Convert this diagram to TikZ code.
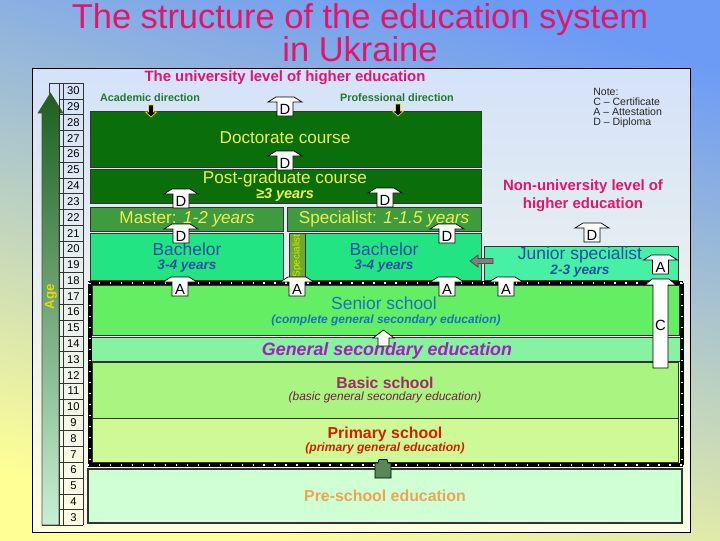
\documentclass[tikz,border=0pt]{standalone}
\usepackage{fontspec}
\setmainfont{Liberation Sans}

\definecolor{bgblue}{RGB}{108,155,245}
\definecolor{bgyellow}{RGB}{255,255,150}
\definecolor{paneltop}{RGB}{212,226,250}
\definecolor{panelbot}{RGB}{255,255,225}
\definecolor{titlepink}{RGB}{228,20,110}
\definecolor{docgreen}{RGB}{10,110,10}
\definecolor{midgreen}{RGB}{62,155,62}
\definecolor{bachgreen}{RGB}{35,228,130}
\definecolor{stripgreen}{RGB}{105,170,50}
\definecolor{jungreen}{RGB}{70,240,165}
\definecolor{seniorgreen}{RGB}{100,238,100}
\definecolor{gengreen}{RGB}{135,242,160}
\definecolor{basicgreen}{RGB}{170,245,130}
\definecolor{primgreen}{RGB}{205,250,150}
\definecolor{pregreen}{RGB}{208,255,212}
\definecolor{yeltext}{RGB}{240,240,80}
\definecolor{bluetext}{RGB}{30,80,170}
\definecolor{purpletext}{RGB}{165,30,190}
\definecolor{basictext}{RGB}{165,40,105}
\definecolor{primtext}{RGB}{215,30,0}
\definecolor{pretext}{RGB}{235,165,85}
\definecolor{dirgreen}{RGB}{30,120,45}
\definecolor{agetop}{RGB}{30,95,30}
\definecolor{agebot}{RGB}{200,240,212}

\tikzset{
  blk/.style={draw=black!80, line width=0.5pt},
  rail/.style={draw=black, line width=2.6pt,
    postaction={draw=white, line width=0.9pt, dash pattern=on 1pt off 6.8pt}},
  certbox/.style={draw=black, fill=white, line width=0.5pt},
  certtxt/.style={font=\fontsize{10.5}{12}\selectfont, inner sep=0pt},
  pics/cert/.style={code={
    \draw[certbox] (-8,7) -- (-8,-7) -- (-17,-7) -- (-9,-12) -- (9,-12) -- (17,-7) -- (8,-7) -- (8,7) -- cycle;
    \node[certtxt] (-l) at (0,0.5) {#1};
  }},
  pics/dirmark/.style={code={
    \draw[fill=black, draw=yellow!90!black, line width=0.5pt] (-2.5,-6) -- (2.5,-6) -- (2.5,1) -- (5.5,1) -- (0,6) -- (-5.5,1) -- (-2.5,1) -- cycle;
  }},
  pinktxt/.style={text=titlepink, font=\bfseries\fontsize{10.6}{12.8}\selectfont, inner sep=0pt},
  yeltxt/.style={text=yeltext, font=\fontsize{12.2}{14}\selectfont, inner sep=0pt},
  bluetxt/.style={text=bluetext, font=\fontsize{12.4}{14}\selectfont, inner sep=0pt},
  yrs/.style={font=\bfseries\itshape\fontsize{9.7}{11}\selectfont, inner sep=0pt},
  subtxt/.style={inner sep=0pt},
  agenum/.style={font=\fontsize{8}{9}\selectfont, inner sep=0pt},
}

\begin{document}
\begin{tikzpicture}[x=0.025cm, y=-0.025cm]
  \useasboundingbox (0,0) rectangle (720,540);

  % Background and panel
  \shade[top color=bgblue, bottom color=bgyellow, shading angle=-15] (0,0) rectangle (720,540);
  \shade[top color=paneltop, bottom color=panelbot, draw=black, line width=0.6pt] (32,68) rectangle (690,532);

  \node[text=titlepink, font=\fontsize{24.5}{23.5}\selectfont, align=center, inner sep=0pt] (title) at (360,33) {The structure of the education system\\in Ukraine};

  % Age scale
  \draw[black!80, line width=0.4pt] (49,83) rectangle (63,525);
  \shade[top color=agetop, bottom color=agebot, draw=black!70, line width=0.4pt] (42,525) -- (42,113) -- (38,113) -- (50.5,93) -- (63,113) -- (59,113) -- (59,525) -- cycle;
  \node[text=yellow!80!olive, font=\bfseries\fontsize{9.5}{11}\selectfont, rotate=90, inner sep=0pt] (age) at (51,297) {Age};
  \foreach \a in {3,...,30} {
    \node[agenum] (n\a) at (73.5, {83+(30-\a)*15.8+7.9}) {\a};
    \draw[black!80, line width=0.4pt] (59, {83+(30-\a)*15.8}) -- (83, {83+(30-\a)*15.8});
  }
  \draw[black!80, line width=0.4pt] (59,83) -- (59,525) (63,83) -- (63,525) (83,83) -- (83,525) (42,525) -- (83,525);

  % University level
  \node[pinktxt] (univ) at (285,78) {The university level of higher education};
  \node[text=dirgreen, font=\bfseries\fontsize{7.7}{9}\selectfont, inner sep=0pt] (acad) at (150,98) {Academic direction};
  \node[text=dirgreen, font=\bfseries\fontsize{7.7}{9}\selectfont, inner sep=0pt] (prof) at (397,98) {Professional direction};

  \draw[blk, fill=docgreen] (90,111) rectangle (481,167);
  \draw[blk, fill=docgreen] (90,169) rectangle (481,203);
  \draw[blk, fill=midgreen] (90,207) rectangle (283,231);
  \draw[blk, fill=midgreen] (287,207) rectangle (481,231);
  \draw[blk, fill=bachgreen] (90,233) rectangle (283,280);
  \draw[blk, fill=stripgreen] (289,233) rectangle (305,280);
  \draw[blk, fill=bachgreen] (305,233) rectangle (481,280);
  \draw[blk, fill=jungreen] (484,246) rectangle (678,280);

  \node[yeltxt] (doct) at (285,138) {Doctorate course};
  \node[yeltxt] (postgr) at (285,179) {Post-graduate course};
  \node[yeltxt, font=\bfseries\itshape\fontsize{10.3}{12}\selectfont] (postyrs) at (285,195) {≥3 years};
  \node[yeltxt] (master) at (187,219) {Master: \textit{1-2 years}};
  \node[yeltxt] (spec) at (384,219) {Specialist: \textit{1-1.5 years}};
  \node[bluetxt] (bachl) at (187,249) {Bachelor};
  \node[yrs, text=bluetext] (bachlyrs) at (187,266) {3-4 years};
  \node[text=yellow!85!olive, font=\fontsize{7}{8}\selectfont, rotate=90, inner sep=0pt] (strip) at (297,256) {Specialist};
  \node[bluetxt] (bachr) at (384,249) {Bachelor};
  \node[yrs, text=bluetext] (bachryrs) at (384,266) {3-4 years};
  \node[bluetxt] (junior) at (580,255) {Junior specialist};
  \node[yrs, text=bluetext] (junioryrs) at (580,271) {2-3 years};

  % Non-university level and note
  \node[pinktxt, align=center] (nonuni) at (583,196) {Non-university level of\\higher education};
  \node[font=\fontsize{7.5}{7.1}\selectfont, align=left, anchor=north west, inner sep=0pt, text=black!85] (note) at (593,88) {Note:\\C – Certificate\\A – Attestation\\D – Diploma};

  % School levels
  \draw[blk, fill=seniorgreen] (92,285) rectangle (679,335);
  \draw[blk, fill=gengreen] (90,337) rectangle (680,361);
  \draw[blk, fill=basicgreen] (92,362) rectangle (678,418);
  \draw[blk, fill=primgreen] (92,418) rectangle (678,462);
  \draw[blk, line width=1pt, fill=pregreen] (88,469) rectangle (682,523);
  \draw[rail] (88,283) -- (683,283) (90,283) -- (90,465) (682,283) -- (682,465) (88,465) -- (683,465);

  \node[bluetxt, text=bluetext!80!cyan] (senior) at (384,303) {Senior school};
  \node[subtxt, text=bluetext!80!cyan, font=\bfseries\itshape\fontsize{8.5}{10}\selectfont] (seniorsub) at (386,320) {(complete general secondary education)};
  \node[text=purpletext, font=\bfseries\itshape\fontsize{12.7}{14}\selectfont, inner sep=0pt] (gensec) at (387,351) {General secondary education};
  \node[text=basictext, font=\bfseries\fontsize{11.2}{13}\selectfont, inner sep=0pt] (basic) at (385,383) {Basic school};
  \node[subtxt, text=basictext!70!black, font=\itshape\fontsize{8.5}{10}\selectfont] (basicsub) at (385,397) {(basic general secondary education)};
  \node[text=primtext, font=\bfseries\fontsize{11.3}{13}\selectfont, inner sep=0pt] (prim) at (385,434) {Primary school};
  \node[subtxt, text=primtext, font=\bfseries\itshape\fontsize{8.6}{10}\selectfont] (primsub) at (385,448) {(primary general education)};
  \node[text=pretext, font=\bfseries\fontsize{11.3}{13}\selectfont, inner sep=0pt] (pre) at (385,496) {Pre-school education};

  % Direction marks and transfer arrows
  \pic at (151,111) {dirmark};
  \pic at (398,110) {dirmark};
  \draw[fill=black!50, draw=black!70, line width=0.5pt] (493,258.5) -- (478,258.5) -- (478,255) -- (470,261) -- (478,267) -- (478,263.5) -- (493,263.5) -- cycle;
  \draw[certbox] (378,346) -- (378,338) -- (373,338) -- (383.5,330) -- (394,338) -- (389,338) -- (389,346) -- cycle;
  \draw[fill=black!40!green!30!gray, draw=black, line width=0.5pt] (375,478) -- (375,463) -- (378,463) -- (379,459.5) -- (387,459.5) -- (388,463) -- (391,463) -- (391,478) -- cycle;

  % Certificate arrows
  \draw[certbox] (653,368) -- (653,285) -- (645,285) -- (652,279) -- (669,279) -- (676,285) -- (668,285) -- (668,368) -- cycle;
  \node[certtxt] (cert) at (660.5,325) {C};
  \pic (dDoc) at (285,109) {cert=D};
  \pic (dPost) at (285,163) {cert=D};
  \pic (dMast) at (181,201) {cert=D};
  \pic (dSpec) at (385,200) {cert=D};
  \pic (dBachL) at (181,236) {cert=D};
  \pic (dBachR) at (447,236) {cert=D};
  \pic (dJun) at (592,235) {cert=D};
  \pic (aBachL) at (180,289) {cert=A};
  \pic (aStrip) at (297,289) {cert=A};
  \pic (aBachR) at (447,289) {cert=A};
  \pic (aJun) at (506,289) {cert=A};
  \pic (aJunOut) at (660.5,267) {cert=A};
\end{tikzpicture}
\end{document}
